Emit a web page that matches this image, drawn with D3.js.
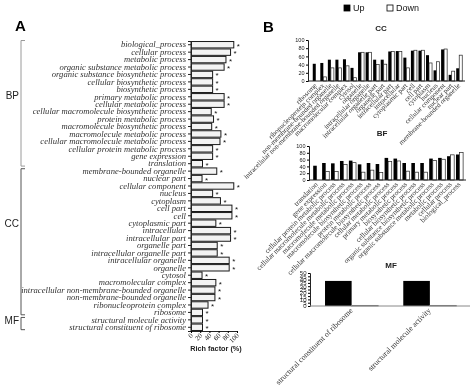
<!DOCTYPE html>
<html><head><meta charset="utf-8">
<script src="https://cdn.jsdelivr.net/npm/d3@7"></script>
<style>body{margin:0;background:#fff}svg{display:block;will-change:transform}</style></head>
<body><svg id="c" width="474" height="389"></svg>
<script>
// ---------- Panel A data ----------
const termsA = ["biological_process","cellular process","metabolic process","organic substance metabolic process","organic substance biosynthetic process","cellular biosynthetic process","biosynthetic process","primary metabolic process","cellular metabolic process","cellular macromolecule biosynthetic process","protein metabolic process","macromolecule biosynthetic process","macromolecule metabolic process","cellular macromolecule metabolic process","cellular protein metabolic process","gene expression","translation","membrane-bounded organelle","nuclear part","cellular  component","nucleus","cytoplasm","cell part","cell","cytoplasmic part","intracellular","intracellular part","organelle part","intracellular organelle part","intracellular organelle","organelle","cytosol","macromolecular complex","intracellular non-membrane-bounded organelle","non-membrane-bounded organelle","ribonucleoprotein complex","ribosome","structural molecule activity","structural constituent of ribosome"];
const richA = [93,86,76,72,47,47,47,72,72,44,49,45,65,63,47,47,25,56,24,93,47,64,89,89,54,86,86,57,57,83,83,24,54,52,52,37,25,25,25];
const groupNames = ["BP","CC","MF"];
const groupSizes = [17,20,2];
const ticksA = [0,20,40,60,80,100];

// ---------- Panel B data ----------
const legendNames = ["Up","Down"];
const ccCats = ["ribosome","ribonucleoprotein complex","non-membrane-bounded organelle","intracellular non-membrane-bounded organelle","macromolecular complex","cytosol","organelle","intracellular organelle","intracellular organelle part","organelle part","intracellular part","intracellular","cytoplasmic part","cell","cell part","cytoplasm","nucleus","cellular  component","nuclear part","membrane-bounded organelle"];
const ccUp   = [42,44,52,52,53,32,70,70,52,52,72,73,57,74,74,63,26,77,15,31];
const ccDown = [0,10,32,32,37,8,70,70,40,41,72,72,32,75,75,44,47,78,24,63];
const bfCats = ["translation","gene expression","cellular protein metabolic process","cellular macromolecule metabolic process","macromolecule metabolic process","macromolecule biosynthetic process","protein metabolic process","cellular macromolecule biosynthetic process","cellular metabolic process","primary metabolic process","biosynthetic process","cellular biosynthetic process","organic substance biosynthetic process","organic substance metabolic process","metabolic process","cellular process","biological_process"];
const bfUp   = [42,50,49,56,57,46,50,47,65,63,50,50,50,63,65,70,75];
const bfDown = [0,25,25,46,51,23,29,22,54,56,26,23,23,57,61,74,81];
const mfCats = ["structural constituent of ribosome","structural molecule activity"];
const mfUp   = [38,38];
const mfDown = [1,1];
const ticksB = [0,20,40,60,80,100];
const ticksMF = [0,5,10,15,20,25,30,35,40,45,50];

const svg = d3.select("#c");
const serif = "'Liberation Serif','Times New Roman',serif";
const sans = "'Liberation Sans',Arial,sans-serif";

// ================= PANEL A =================
svg.append("text").attr("x",15).attr("y",31).text("A")
  .attr("font-family",sans).attr("font-weight","bold").attr("font-size",15);

const yA = d3.scaleBand().domain(termsA).range([41,331]).paddingInner(0.14).paddingOuter(0.07);
const xA = d3.scaleLinear().domain([0,100]).range([191,237]);

const gA = svg.append("g");
gA.selectAll("rect.bar").data(termsA).join("rect").attr("class","bar")
  .attr("x",xA(0)).attr("y",d=>yA(d))
  .attr("width",(d,i)=>xA(richA[i])-xA(0)).attr("height",yA.bandwidth())
  .attr("fill","#f3f3f3").attr("stroke","#1a1a1a").attr("stroke-width",1);
gA.selectAll("text.star").data(termsA).join("text").attr("class","star")
  .attr("x",(d,i)=>xA(richA[i])+3).attr("y",d=>yA(d)+yA.bandwidth()/2+4)
  .text("*").attr("font-family",sans).attr("font-size",8).attr("fill","#111");

const axL = d3.axisLeft(yA).tickSize(3).tickPadding(2);
const gL = svg.append("g").attr("transform",`translate(${xA(0)},0)`).call(axL);
gL.select(".domain").attr("stroke","#222");
gL.selectAll(".tick line").attr("stroke","#222");
gL.selectAll("text").attr("font-family",serif).attr("font-style","italic")
  .attr("font-size",8.6).attr("fill","#333");

const axB = d3.axisBottom(xA).tickValues(ticksA).tickSize(2).tickFormat(d3.format("d"));
const gBx = svg.append("g").attr("transform","translate(0,331)").call(axB);
gBx.select(".domain").attr("stroke","#222");
gBx.selectAll(".tick text").attr("font-family",serif).attr("font-size",7).attr("fill","#222")
  .attr("text-anchor","end").attr("dy",0).attr("y",0)
  .attr("transform","translate(2,5) rotate(-45)");
svg.append("text").attr("x",216).attr("y",351).attr("text-anchor","middle")
  .text("Rich factor (%)").attr("font-family",sans).attr("font-weight","bold").attr("font-size",7.3).attr("fill","#222");

// group brackets
let start = 0;
const labelRow = [7.3, 24.5, 37.6];
groupNames.forEach((g,k)=>{
  const first = termsA[start], last = termsA[start+groupSizes[k]-1];
  const y0 = yA(first) + (k===0?-1:0.8);
  const y1 = yA(last) + yA.bandwidth() - 0.8;
  const col = k===0 ? "#9a9a9a" : "#555";
  const bx = 21;
  svg.append("path").attr("d",`M${bx+4},${y0}H${bx}V${y1}H${bx+4}`)
    .attr("fill","none").attr("stroke",col).attr("stroke-width",1);
  const ly = yA.range()[0] + yA.step()*labelRow[k];
  svg.append("text").attr("x",bx-2).attr("y",ly+3.5).attr("text-anchor","end")
    .text(g).attr("font-family",sans).attr("font-size",10).attr("fill","#222");
  start += groupSizes[k];
});

// ================= PANEL B =================
svg.append("text").attr("x",263).attr("y",32).text("B")
  .attr("font-family",sans).attr("font-weight","bold").attr("font-size",15);

// legend
const leg = svg.append("g");
[[344,"#000"],[387,"#fff"]].forEach((p,i)=>{
  leg.append("rect").attr("x",p[0]).attr("y",5).attr("width",6).attr("height",6)
    .attr("fill",p[1]).attr("stroke","#000").attr("stroke-width",0.8);
  leg.append("text").attr("x",p[0]+9).attr("y",11.3).text(legendNames[i])
    .attr("font-family",sans).attr("font-size",9).attr("fill","#111");
});

function grouped(opt){
  const g = svg.append("g");
  const x = d3.scaleBand().domain(opt.cats).range(opt.xr).paddingInner(opt.pi).paddingOuter(opt.po);
  const y = d3.scaleLinear().domain([0,opt.max]).range(opt.yr);
  const bw = x.bandwidth()/2;
  g.selectAll("rect.up").data(opt.cats).join("rect").attr("class","up")
    .attr("x",d=>x(d)).attr("width",bw)
    .attr("y",(d,i)=>y(opt.up[i])).attr("height",(d,i)=>y(0)-y(opt.up[i]))
    .attr("fill","#000");
  g.selectAll("rect.dn").data(opt.cats).join("rect").attr("class","dn")
    .attr("x",d=>x(d)+bw).attr("width",bw)
    .attr("y",(d,i)=>y(opt.down[i])).attr("height",(d,i)=>y(0)-y(opt.down[i]))
    .attr("fill","#fff").attr("stroke",opt.dnStroke).attr("stroke-width",0.7);
  const ya = g.append("g").attr("transform",`translate(${opt.ax},0)`)
    .call(d3.axisLeft(y).tickValues(opt.ticks).tickSize(2).tickPadding(1.5));
  ya.select(".domain").attr("stroke","#222");
  ya.selectAll("text").attr("font-family",sans).attr("font-size",opt.tfs).attr("fill","#222");
  g.append("line").attr("x1",opt.ax).attr("x2",opt.axEnd).attr("y1",y(0)).attr("y2",y(0))
    .attr("stroke",opt.xaxCol).attr("stroke-width",1);
  g.selectAll("text.cat").data(opt.cats).join("text").attr("class","cat")
    .attr("transform",d=>`translate(${x(d)+x.bandwidth()/2+1.5},${y(0)+5}) rotate(-45)`)
    .attr("text-anchor","end").text(d=>d)
    .attr("font-family",serif).attr("font-size",opt.lfs).attr("fill","#333");
  g.append("text").attr("x",opt.tx).attr("y",opt.ty).attr("text-anchor","middle")
    .text(opt.title).attr("font-family",sans).attr("font-weight","bold").attr("font-size",8).attr("fill","#222");
}

grouped({cats:ccCats,up:ccUp,down:ccDown,xr:[312,463],pi:0.2,po:0.1,yr:[81,40],max:100,
  ticks:ticksB,ax:308,axEnd:465,tfs:5.5,lfs:7,title:"CC",tx:381,ty:31,dnStroke:"#222",xaxCol:"#222"});
grouped({cats:bfCats,up:bfUp,down:bfDown,xr:[312.3,464],pi:0.2,po:0.1,yr:[180,146],max:100,
  ticks:ticksB,ax:309,axEnd:466,tfs:5.5,lfs:7.2,title:"BF",tx:382,ty:136,dnStroke:"#222",xaxCol:"#222"});
grouped({cats:mfCats,up:mfUp,down:mfDown,xr:[312.5,469],pi:0.32,po:0.16,yr:[306,273],max:50,
  ticks:ticksMF,ax:310,axEnd:470,tfs:6,lfs:7.8,title:"MF",tx:391,ty:268,dnStroke:"#777",xaxCol:"#888"});
</script></body></html>
